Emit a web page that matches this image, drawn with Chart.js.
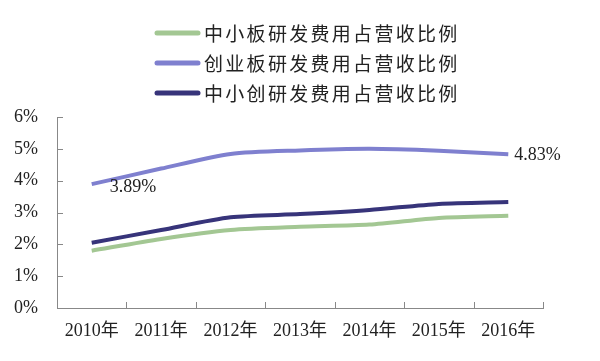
<!DOCTYPE html>
<html><head><meta charset="utf-8">
<script src="https://cdn.jsdelivr.net/npm/chart.js@4.4.1/dist/chart.umd.min.js"></script>
<style>html,body{margin:0;padding:0;background:#fff}#wrap{width:600px;height:361px}</style>
</head><body><div id="wrap"><canvas id="c" width="600" height="361"></canvas></div>
<script>
const categories = ['2010年','2011年','2012年','2013年','2014年','2015年','2016年'];
const seriesNames = ['中小板研发费用占营收比例','创业板研发费用占营收比例','中小创研发费用占营收比例'];
const smeBoard = [1.80, 2.17, 2.45, 2.55, 2.62, 2.83, 2.90];
const chinext = [3.89, 4.38, 4.84, 4.95, 5.00, 4.94, 4.83];
const combined = [2.05, 2.45, 2.85, 2.95, 3.08, 3.27, 3.33];
const yTicks = [0, 1, 2, 3, 4, 5, 6];
const colors = ['#a3c793', '#7f80cf', '#37347a'];

const serif = '"Liberation Serif", "Noto Sans CJK SC", serif';

const decor = {
  id: 'decor',
  afterDraw(chart) {
    const ctx = chart.ctx;
    const xs = chart.scales.x, ys = chart.scales.y;
    ctx.save();
    ctx.strokeStyle = '#888';
    ctx.lineWidth = 1;
    ys.ticks.forEach(t => {
      const py = Math.round(ys.getPixelForValue(t.value)) + 0.5;
      ctx.beginPath(); ctx.moveTo(xs.left, py); ctx.lineTo(xs.left + 6, py); ctx.stroke();
    });
    const n = categories.length;
    for (let i = 0; i <= n; i++) {
      const px = Math.round(xs.left + i * xs.width / n) + 0.5;
      ctx.beginPath(); ctx.moveTo(px, ys.bottom); ctx.lineTo(px, ys.bottom - 6); ctx.stroke();
    }
    ctx.fillStyle = '#222';
    ctx.font = '18px ' + serif;
    ctx.textBaseline = 'middle';
    ctx.textAlign = 'left';
    const meta = chart.getDatasetMeta(1);
    const p0 = meta.data[0], pl = meta.data[meta.data.length - 1];
    ctx.fillText(chinext[0].toFixed(2) + '%', p0.x + 18, p0.y + 3);
    ctx.fillText(chinext[chinext.length - 1].toFixed(2) + '%', pl.x + 6, pl.y + 1);
    ctx.font = '19px "Noto Sans CJK SC", sans-serif';
    try { ctx.letterSpacing = '2.3px'; } catch (e) {}
    chart.data.datasets.forEach((ds, i) => {
      const y = 33 + i * 30;
      ctx.strokeStyle = ds.borderColor;
      ctx.lineWidth = 5;
      ctx.lineCap = 'round';
      ctx.beginPath(); ctx.moveTo(157, y); ctx.lineTo(198, y); ctx.stroke();
      ctx.fillStyle = '#222';
      ctx.fillText(ds.label, 204, y + 1);
    });
    ctx.restore();
  }
};

new Chart(document.getElementById('c'), {
  type: 'line',
  data: {
    labels: categories,
    datasets: [
      { label: seriesNames[0], data: smeBoard, borderColor: colors[0], backgroundColor: colors[0] },
      { label: seriesNames[1], data: chinext, borderColor: colors[1], backgroundColor: colors[1] },
      { label: seriesNames[2], data: combined, borderColor: colors[2], backgroundColor: colors[2] }
    ]
  },
  options: {
    responsive: false,
    animation: false,
    devicePixelRatio: 1,
    layout: { padding: { top: 117, right: 57, left: 0, bottom: 0 } },
    elements: {
      line: { borderWidth: 4, tension: 0.25, cubicInterpolationMode: 'default' },
      point: { radius: 0, hoverRadius: 0 }
    },
    plugins: { legend: { display: false }, tooltip: { enabled: false } },
    scales: {
      x: {
        offset: true,
        grid: { display: false, drawTicks: false },
        border: { display: true, color: '#888', width: 1 },
        ticks: { color: '#222', font: { family: serif, size: 18 }, padding: 12, maxRotation: 0, autoSkip: false },
        afterFit(s) { s.height = 53; }
      },
      y: {
        min: 0, max: 6,
        afterBuildTicks(s) { s.ticks = yTicks.map(v => ({ value: v })); },
        grid: { display: false, drawTicks: false },
        border: { display: true, color: '#888', width: 1 },
        ticks: { color: '#222', font: { family: serif, size: 18 }, padding: 19, callback: v => v + '%' },
        afterFit(s) { s.width = 57; }
      }
    }
  },
  plugins: [decor]
});
</script>
</body></html>
